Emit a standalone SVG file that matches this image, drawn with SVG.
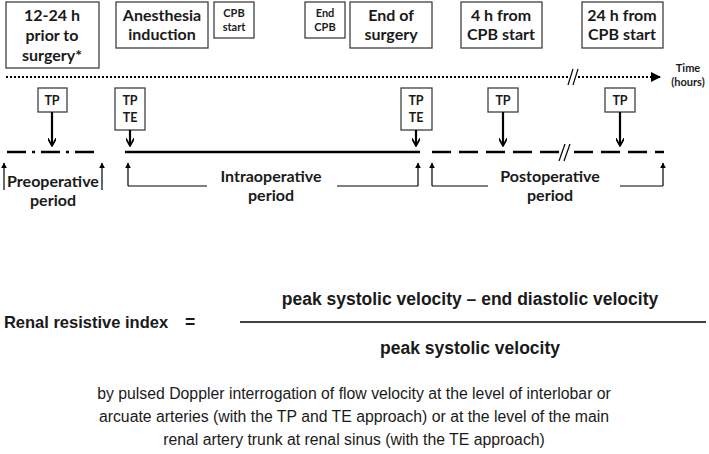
<svg xmlns="http://www.w3.org/2000/svg" width="709" height="454" viewBox="0 0 709 454">
<defs>
<marker id="ah" viewBox="0 0 10 10" refX="9" refY="5" markerWidth="5" markerHeight="5" orient="auto"><path d="M0,0 L10,5 L0,10 z" fill="#000"/></marker>
<marker id="v" viewBox="0 0 10 10" refX="8" refY="5" markerWidth="4" markerHeight="4" orient="auto"><path d="M0,0 L9,5 L0,10" fill="none" stroke="#000" stroke-width="2"/></marker>
</defs>
<style>
.bx{fill:#fff;stroke:#404040;stroke-width:1.3}
text{font-family:Lato,"Open Sans","Liberation Sans",sans-serif;font-weight:bold;fill:#1a1a1a;text-anchor:middle}
.b{font-size:16px}.s{font-size:11px}.m{font-size:12.5px}
.f{font-family:"Liberation Sans",Arial,sans-serif;font-size:17.5px}
.g{font-family:"Liberation Sans",Arial,sans-serif;font-size:16.5px}
.r{font-family:"Liberation Sans",Arial,sans-serif;font-size:15.8px;font-weight:normal}
line{stroke:#000}
</style>
<rect width="709" height="454" fill="#fff"/>
<g id="n-pre"><rect class="bx" x="6" y="2" width="93" height="66"/><text class="b" x="52" y="21">12-24 h</text><text class="b" x="52" y="41">prior to</text><text class="b" x="52" y="61">surgery*</text></g>
<g id="n-anes"><rect class="bx" x="116" y="2" width="92" height="46"/><text class="b" x="162" y="21">Anesthesia</text><text class="b" x="162" y="40">induction</text></g>
<g id="n-cpbs"><rect class="bx" x="214" y="2" width="40" height="36"/><text class="s" x="234" y="17">CPB</text><text class="s" x="234" y="31">start</text></g>
<g id="n-cpbe"><rect class="bx" x="305" y="2" width="40" height="36"/><text class="s" x="325" y="17">End</text><text class="s" x="325" y="31">CPB</text></g>
<g id="n-end"><rect class="bx" x="350" y="2" width="82" height="46"/><text class="b" x="391" y="21">End of</text><text class="b" x="391" y="40">surgery</text></g>
<g id="n-4h"><rect class="bx" x="461" y="2" width="81" height="46"/><text class="b" x="501" y="21">4 h from</text><text class="b" x="501" y="40">CPB start</text></g>
<g id="n-24h"><rect class="bx" x="582" y="2" width="81" height="46"/><text class="b" x="622" y="21">24 h from</text><text class="b" x="622" y="40">CPB start</text></g>
<g id="n-time"><text class="s" x="688" y="72">Time</text><text class="s" x="688" y="86">(hours)</text></g>
<g id="n-tp1"><rect class="bx" x="38" y="88" width="29" height="24"/><text class="m" x="52" y="105">TP</text></g>
<g id="n-tp2"><rect class="bx" x="115" y="88" width="30" height="42"/><text class="m" x="130" y="105">TP</text><text class="m" x="130" y="122">TE</text></g>
<g id="n-tp3"><rect class="bx" x="401" y="88" width="31" height="42"/><text class="m" x="416" y="105">TP</text><text class="m" x="416" y="122">TE</text></g>
<g id="n-tp4"><rect class="bx" x="488" y="88" width="30" height="24"/><text class="m" x="503" y="105">TP</text></g>
<g id="n-tp5"><rect class="bx" x="605" y="88" width="30" height="24"/><text class="m" x="620" y="105">TP</text></g>
<g id="n-periods">
<text class="b" x="53" y="187">Preoperative</text><text class="b" x="53" y="206">period</text>
<text class="b" x="271" y="182">Intraoperative</text><text class="b" x="271" y="201">period</text>
<text class="b" x="550" y="182">Postoperative</text><text class="b" x="550" y="201">period</text>
</g>
<g id="connectors" fill="none">
<line x1="6" y1="77" x2="571" y2="77" stroke-width="2" stroke-dasharray="2,2"/>
<line x1="578" y1="77" x2="660" y2="77" stroke-width="2" stroke-dasharray="2,2" marker-end="url(#ah)"/>
<line x1="568" y1="85" x2="573" y2="69" stroke-width="1.2"/><line x1="573" y1="85" x2="578" y2="69" stroke-width="1.2"/>
<line x1="52" y1="112" x2="52" y2="145" stroke-width="2.2" marker-end="url(#v)"/>
<line x1="130" y1="130" x2="130" y2="145" stroke-width="2.2" marker-end="url(#v)"/>
<line x1="416" y1="130" x2="416" y2="145" stroke-width="2.2" marker-end="url(#v)"/>
<line x1="503" y1="112" x2="503" y2="145" stroke-width="2.2" marker-end="url(#v)"/>
<line x1="620" y1="112" x2="620" y2="145" stroke-width="2.2" marker-end="url(#v)"/>
<line x1="7" y1="152" x2="100" y2="152" stroke-width="2.5" stroke-dasharray="19,6,3,6"/>
<line x1="125" y1="152" x2="420" y2="152" stroke-width="2.5"/>
<line x1="432" y1="152" x2="560" y2="152" stroke-width="2.5" stroke-dasharray="19,8"/>
<line x1="574" y1="152" x2="664" y2="152" stroke-width="2.5" stroke-dasharray="19,8"/>
<line x1="559" y1="161" x2="565" y2="144" stroke-width="1.2"/><line x1="564" y1="161" x2="570" y2="144" stroke-width="1.2"/>
<line x1="4" y1="190" x2="4" y2="163" stroke-width="1.2" marker-end="url(#ah)"/>
<line x1="102" y1="190" x2="102" y2="163" stroke-width="1.2" marker-end="url(#ah)"/>
<line x1="128" y1="186" x2="128" y2="163" stroke-width="1.2" marker-end="url(#ah)"/>
<line x1="418" y1="186" x2="418" y2="163" stroke-width="1.2" marker-end="url(#ah)"/>
<line x1="432" y1="186" x2="432" y2="163" stroke-width="1.2" marker-end="url(#ah)"/>
<line x1="663" y1="186" x2="663" y2="163" stroke-width="1.2" marker-end="url(#ah)"/>
<line x1="128" y1="186" x2="207" y2="186"/>
<line x1="337" y1="186" x2="418" y2="186"/>
<line x1="432" y1="186" x2="488" y2="186"/>
<line x1="620" y1="186" x2="663" y2="186"/>
<line x1="240" y1="322" x2="706" y2="322" stroke-width="1.5"/>
</g>
<g id="n-formula">
<text class="g" x="86" y="328">Renal resistive index</text>
<text class="f" x="190" y="328">=</text>
<text class="f" x="470" y="305">peak systolic velocity – end diastolic velocity</text>
<text class="f" x="470" y="354">peak systolic velocity</text>
<text class="r" x="354" y="399">by pulsed Doppler interrogation of flow velocity at the level of interlobar or</text>
<text class="r" x="354" y="422">arcuate arteries (with the TP and TE approach) or at the level of the main</text>
<text class="r" x="354" y="445">renal artery trunk at renal sinus (with the TE approach)</text>
</g>
</svg>
